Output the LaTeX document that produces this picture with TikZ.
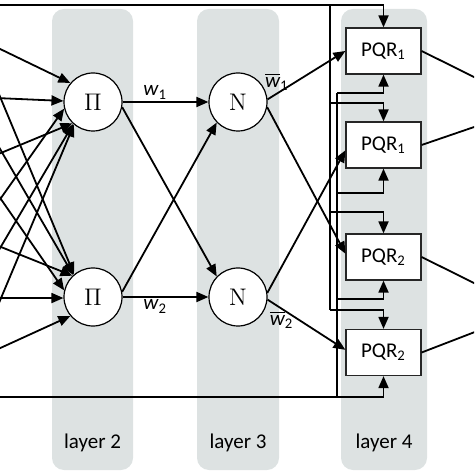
\documentclass[tikz,border=0pt]{standalone}
\usepackage{fontspec}
\setsansfont{Carlito}
\usetikzlibrary{arrows.meta}
\definecolor{bandgray}{RGB}{221,226,226}
\tikzset{
  neuron/.style={draw, circle, fill=white, minimum size=29pt, inner sep=0pt, line width=0.6pt, font=\fontsize{12}{14}\selectfont},
  rulebox/.style={draw=black!85, rectangle, fill=white, minimum width=37.5pt, minimum height=23pt, line width=0.6pt, font=\sffamily\fontsize{10.5}{12}\selectfont},
  band/.style={fill=bandgray, rounded corners=6pt},
  arr/.style={-{Triangle[length=6pt,width=5pt]}},
  wlab/.style={font=\sffamily\fontsize{10.5}{12}\selectfont, inner sep=1pt},
  layerlab/.style={font=\sffamily\fontsize{10.5}{12}\selectfont}
}
\begin{document}
\begin{tikzpicture}[x=0.5pt, y=-0.5pt, line width=0.9pt]
    \useasboundingbox (0,0) rectangle (474,474);
    \clip (0,0) rectangle (474,474);

        \foreach \a/\b/\l in {52/133/2, 197/279/3, 341/427/4}
            {
                \fill[band] (\a,9) rectangle (\b,470);
                \node[name=lab\l, layerlab] at ({(\a+\b)/2},443) {layer \l};
            }

        \node[name=p1, neuron] at (93,102) {$\Pi$};
        \node[name=p2, neuron] at (93,297) {$\Pi$};
        \node[name=n1, neuron] at (238,102) {N};
        \node[name=n2, neuron] at (238,297) {N};
        \foreach \i/\y/\k in {1/51/1, 2/145/1, 3/257/2, 4/352.5/2}
            \node[name=b\i, rulebox] at (383.5,\y) {PQR\textsubscript{\k}};

        \foreach \y/\a [count=\i] in {47/140, 98/178, 205/193, 155/226, 255/228, 310/230}
            {
                \coordinate (s\i) at (-4,\y);
                \draw[arr] (s\i) -- (p1.\a);
            }
        \foreach \y/\a [count=\i] in {350/220, 298/182, 192/167, 245/134, 142/132, 87/130}
            {
                \coordinate (t\i) at (-4,\y);
                \draw[arr] (t\i) -- (p2.\a);
            }

        \draw[arr] (p1) -- node[wlab, above, pos=0.38] {\textit{w}\textsubscript{1}} (n1);
        \draw[arr] (p2) -- node[wlab, below, pos=0.38] {\textit{w}\textsubscript{2}} (n2);
        \draw[arr] (p1.-10) -- (n2.136);
        \draw[arr] (p2.10) -- (n1.-136);

        \draw[arr] (n1.5) -- node[wlab, above, pos=0.12] {$\overline{\hbox{\sffamily\itshape w}}$\textsubscript{1}} (b1.west);
        \draw[arr] (n1.-10) -- (b3.175);
        \draw[arr] (n2.8) -- (b2.188);
        \draw[arr] (n2.-5) -- node[wlab, below, pos=0.18] {$\overline{\hbox{\sffamily\itshape w}}$\textsubscript{2}} (b4.176);

        \coordinate (xin) at (-4,5);
        \coordinate (yin) at (-4,397);
        \coordinate (xbus) at (330,5);
        \coordinate (ybus) at (337,397);
        \draw[arr] (xin) -| (b1.north);
        \draw[arr] (yin) -| (b4.south);
        \foreach \i/\y in {2/103, 3/212, 4/310}
            \coordinate (xb\i) at (330,\y);
        \foreach \i/\y in {1/93, 2/193, 3/299}
            \coordinate (yb\i) at (337,\y);
        \draw (xbus) -- (xb4);
        \draw (ybus) -- (yb1);
        \foreach \i in {2,3,4}
            \draw[arr] (xb\i) -| (b\i.north);
        \foreach \i in {1,2,3}
            \draw[arr] (yb\i) -| (b\i.south);

        \foreach \i/\y in {1/80, 2/125, 3/286, 4/330}
            {
                \coordinate (o\i) at (480,\y);
                \draw (b\i.east) -- (o\i);
            }
    \end{tikzpicture}
\end{document}
